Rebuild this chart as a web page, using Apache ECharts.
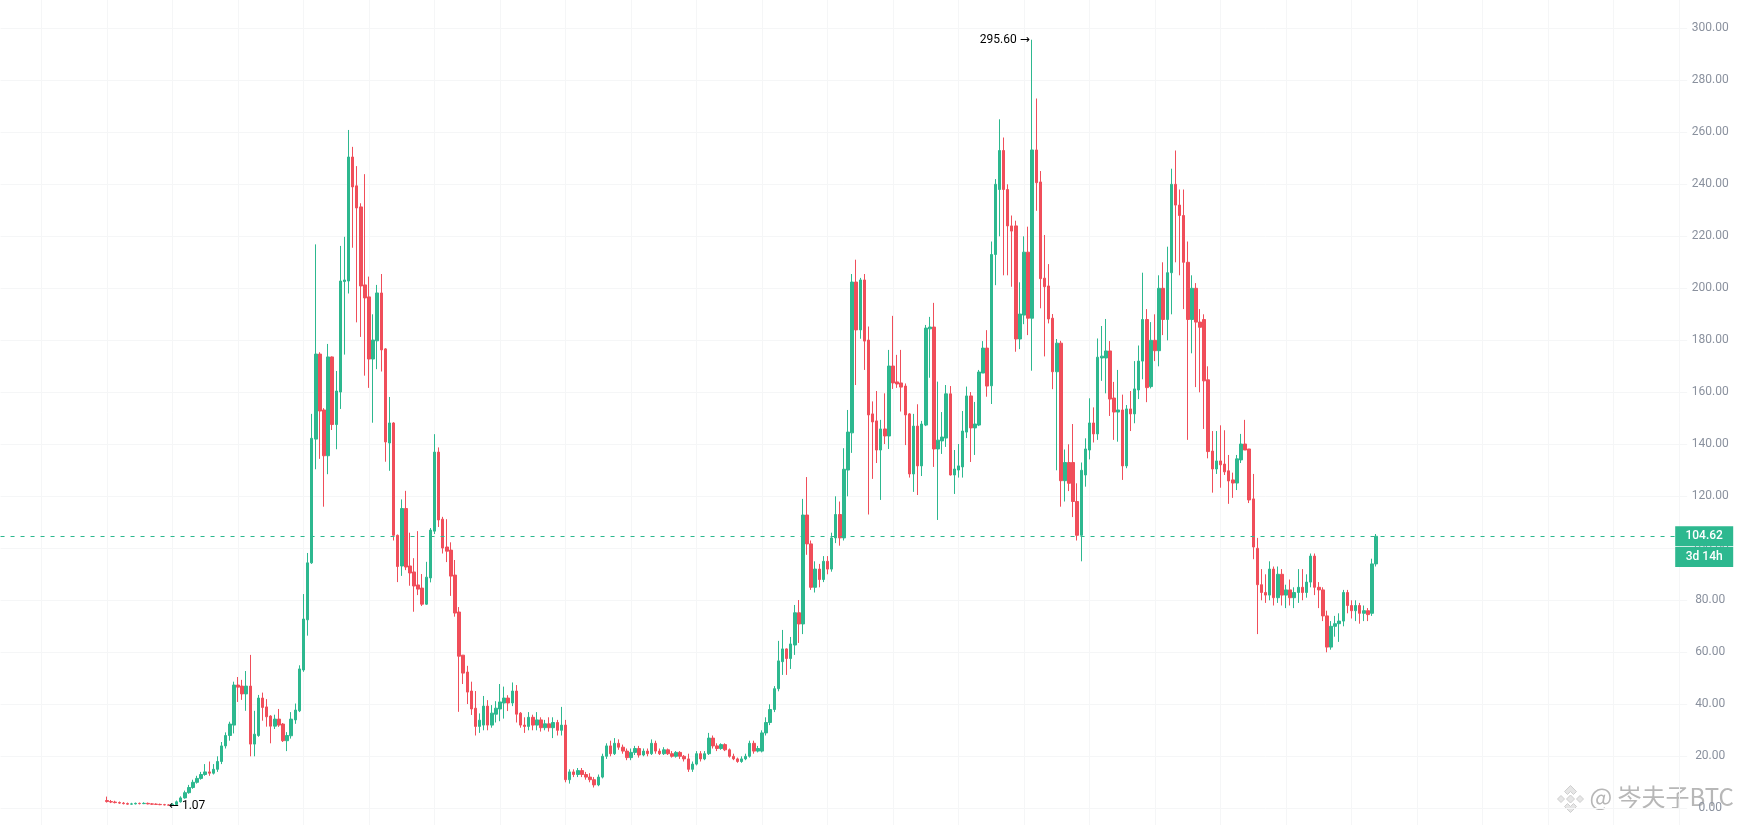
<!DOCTYPE html>
<html><head><meta charset="utf-8"><style>html,body{margin:0;padding:0;background:#fff}#c{width:1738px;height:825px}</style>
<script src="https://cdn.jsdelivr.net/npm/echarts@6/dist/echarts.min.js"></script></head><body><div id="c"></div><script>
const priceTicksMin=-20, priceTicksMax=320, priceStep=20;
const leadingBlank=26, totalSlots=413;
const lastPrice=104.62, countdownLevel=96.65, countdownText='3d 14h';
const highLabel='295.60 →', highAt=[226,295.6], lowLabel='← 1.07', lowAt=[15,1.07];
const candleRows=[ // open, close, low, high
[3,2.6,2.2,4.5],[2.6,2.4,2,3.2],[2.4,2.2,1.9,2.9],[2.2,2,1.7,2.6],[2,1.8,1.5,2.4],[1.8,1.6,1.4,2.2],[1.6,1.7,1.4,2.1],[1.7,1.9,1.5,2.2],[1.9,1.8,1.5,2.2],[1.8,1.9,1.6,2.3],[1.9,1.7,1.5,2.2],[1.7,1.6,1.3,2],[1.6,1.5,1.3,1.9],[1.5,1.4,1.2,1.8],[1.4,1.3,1.15,1.7],[1.3,1.2,1.07,1.6],[1.2,1.5,1.1,1.9],
[1.5,2.5,1.3,3],[2.5,4,2.2,4.6],[4,6,3.7,6.8],[6,8,5.6,9],[8,10,7.5,11],[10,11.5,9.5,12.5],[11.5,13,11,14],[13,14,12.5,17],[14,13.5,12.5,18],[13.5,15,13,17],[15,18,14,20],[18,24,17,25.5],[24,28,23,29.2],[28,32.4,26,33.3],[32,47.4,28.8,48.7],[47.4,46.6,40.9,50.5],[47,44,41.7,49.4],[44,47,37.5,52.8],[47,24.7,20,59],[24.7,28.5,20,37.5],[28,42.4,27.5,43.6],[42.4,38.8,33.7,44.5],[39,35.2,31.4,42],[35.5,31.6,25,35.8],[31.6,34.3,30.5,36],[34.3,32,31.3,38.2],[32.4,26,25.5,32.8],[26,28,22,29.3],[27.9,34.3,26.8,37],[34,37.8,32.5,40.3],[37.5,53.6,37,55],[53.2,72.8,52.5,82.4],[72.5,94.4,66.4,98.2],[94.4,142.3,94,151.7],
[142,174.7,130.4,216.9],[174.7,152.8,134.4,175.4],[153.2,135.6,116,153.9],[135.6,173.6,128.5,178.6],[173.6,147.6,145.5,173.8],[147.6,160.5,138.1,168.2],[160.1,202.8,153.6,216.3],[202.6,203.2,174.5,219.8],[202.8,250.5,198,260.9],[250.5,239,215.6,254.4],[239.4,230.9,186.9,247],[231.3,200.9,181.3,232.7],[201.3,196.3,166.4,243.9],[196.7,172.8,161.7,204.5],[172.8,180.1,148.3,190],[179.8,198.2,168.9,201.3],[198.2,176.3,168,205.5],[176.7,140.9,133.3,177],[140.5,148.2,129.8,158.2],[148.2,105,103,148.5],[105,93,87,105.3],
[93.2,115.3,89.4,118.8],[115.3,92.8,91.6,122.1],[93.2,90.5,85.6,106],[90.9,85.5,75.6,96.2],[85.9,84.3,82,106.6],[84.7,78.5,77.8,90.1],[78.5,88.9,78.2,94.8],[88.6,107,86.9,107.8],[106.6,137,105.5,143.9],[137,110.9,108.2,138.8],[111.2,100.1,98,112.1],[100.5,98.9,94.7,111.2],[99.3,89.3,81.7,102.3],[89.7,75.1,73.7,95.5],[75.5,58.5,37.1,77.4],[58.9,52,47.8,58.9],[52.4,44.7,40.1,54.8],[45.1,38.2,35.9,48.7],[38.5,31.5,28,45.1],[31.5,33.9,29,36.5],[32,39.3,30,43.2],[39.3,32,30,41.6],[32,36.6,31,39.7],[36.2,38.5,33,41.2],[38.2,40.9,33.5,47.8],[40.5,42.4,34.5,46.8],[42.4,40.5,37.4,43.5],[40.5,45.1,39.3,48.4],[45.1,36.2,33,47.4],[36.6,32,31,37],[32,31.5,29,35],[31.5,35,30,37],[35,32,30,36],[32,34,30,37],[34,31,29.5,35],[31,32.5,30,34],[32.5,31,29.5,35],[31,33,27,35],[33,30,28,34],[30,32,28,39],[32,11,10,34],
[11,14,9.5,15],[14,13,12,15],[13,14.5,12,15.5],[14.5,13,12,15.5],[13,12,11,14],[12,11,10,13.5],[11,9,8,12],[9,12,8.5,13],[12,20,11.5,21],[20,24,19,25],[24,21,20,26],[21,25,20.5,27],[25,23.5,22.5,26.5],[23.5,22,21,24.5],[22,19.5,18.5,23],[19.5,21.5,18.5,23],[21.5,23,20.5,24],[23,20.5,19.5,24],[20.5,22,20,23],[22,21,20,23],[21,25,20.5,26.5],[25,22,21,26],[22,21,20.5,23],[21,22.5,20.5,23.5],[22.5,21,20.5,23],[21,20,19.5,22],[20,21.5,19.5,22],[21.5,20,19,22],[20,19,18,20.5],[19,15,14,21],[15,17,14,18],[17,21,16.5,22],[21,19,18,22],[19,21,18.5,22],[21,27,20.5,29],[27,24,23,28],[24,23,22,25],[23,24.5,22.5,25],[24.5,22.5,22,25],[22.5,20,19.5,23],[20,19,18.5,21],[19,18,17.5,19.5],[18,19,17.5,20],[19,20,18.5,21],[20,25,19.5,26],[25,22,21,26],[22,23,21.5,24],[22,29,21.5,30],[29,33,28,35],[33,38,32,40],[38,46,37,47],[46,56.7,45,64.4],
[56.4,61.3,51.3,68.6],[61.3,57.6,51.3,61.5],[57.6,63.2,53.6,65.9],[62.8,75.2,59,78.2],[75.2,70.9,63.6,80.1],[70.9,112.8,67,119],[112.8,101.7,97.5,127.4],[101.7,85,84,103],[85,92,83,95],[92,88,85,94],[88,95,87,97],[95,92,90,97],[92,104,91,106],[104,113,102,120],[113,104,101,118],[104,130.4,103,138.5],[130.1,144.7,120,153.2],[144.4,202.4,136.7,205.5],[202.4,184,162.8,211],[184,203.2,180.6,204],[203.2,179.7,168.6,205.5],[180.1,151.3,113,185.3],[151.7,148.6,126.7,156.5],[149,137.8,132.8,160.5],[137.8,145.9,118.6,149.4],[145.9,143.2,140.1,159.6],[143.2,170.1,138.2,176.3],
[170.1,163.6,161.3,189.4],[164,163.2,161.7,174.4],[163.6,162,152.6,176.3],[162.4,151.3,139.7,163.4],[151.7,128.6,127.2,152],[128.6,147,121.7,151.7],[147,131.7,120.5,155.4],[131.7,147.8,127.8,149],[147.4,184.7,147,185.9],[184.4,185.1,165.6,189],[185.1,138.2,131.3,194.4],[138.2,141.6,110.9,164.1],[141.3,142.8,136.3,152.4],[142.4,159.4,139,162.8],[159.4,128.2,128,162.4],[128.2,130.5,120.9,137.8],[130.1,131.7,127.2,140.1],[131.3,145.1,127.2,152.8],[144.7,158.6,142.4,162.2],[158.6,146.3,133.2,160.1],[146.3,147.8,135.9,156.3],[147.4,167.8,147,168.6],[167.4,177,167.4,179.7],[177,162.4,158.3,183.9],
[162.5,213,155.5,218],[213,240,201.2,242],[238,253,220,265],[253,238,205,258],[238,224,205,240],[224,222,200.6,228],[224,180.5,175.6,226],[180.5,190.1,176.6,202.3],[189.7,213.9,186.2,220],[213.9,188.5,182,223.7],[188.5,253.2,168.3,295.6],[253.2,240.6,229.8,273],[240.9,203.7,192.3,245.1],[203.9,200.6,173.8,220.5],[200.9,188.2,186.5,209.3],[188.5,167.9,161.2,190.1],[167.9,178.9,130,180.5],[178.9,126,116,179.8],[126,133,118,138],[133,125,122,140],[133,118,112,147.8],[118,105,103,125],[105,130,95,133],[128.2,138.2,123.7,142.3],
[137.8,148.2,134.2,157.7],[148.2,144,140.7,154.2],[144,173.5,141.7,180.7],[173.2,173.9,164.4,185.5],[173.2,175.9,159.6,188.2],[175.9,157.4,150.9,179.7],[157.8,152.4,141.7,164],[152.4,153.2,141,168.6],[153.2,131.7,126.3,159.1],[131.7,153.6,130.8,155.1],[153.6,151.7,145.1,160.5],[151.7,161.3,148.1,172],
[160.9,172,157.4,178],[172,188,165,206],[188,161.8,156.2,192],[162.2,180,161.5,187],[180,176,172,190],[176,200,170,205],[200,188,182,210],[188,206,180,216],[206,240,190,246],[240,232,210,253],[232,228,205,238],[228,210,192,238],[210,188,141.7,218],[188,200,175,205],[200,187,162,202],[187,185,160,192],[188,164.4,145.9,190],
[164.8,137.2,134.6,170],[137.4,130.5,121.4,145.1],[130.5,133.6,128.6,145.1],[133.6,132.1,123.3,147.3],[132.4,129.4,128.2,145.4],[129.8,125.9,117.1,135.9],[126.3,125.1,119.4,129.1],[125.1,134.4,122.4,135.9],[134,140.1,132.8,144],[140.1,137.8,137.8,149.4],[138.2,118.6,117.4,138.2],[119,100.5,95.8,128.6],
[100,86,67,104],[86,83,80,92],[83,82,79,90],[82,92,80,95],[92,81,78,93],[81,90,79,93],[90,82,78,92],[82,84,77,86],[84,81,78,88],[81,83,77,85],[83,85,79,92],[85,83,80,92],[83,87,81,90],[87,97,85,98],[97,85,82,98],[85,84,77,87],[84,74,72,85],[74,62,60,76],[62,70,61,72],[70,71,66,74],[71,72,64,75],[72,83,70,84],[83,78,75,84],[78,76,73,80],[76,78,72,80],[78,75,71,79],[75,76,72,78],[76,74.5,72,77],[75,94,74,96],[94,104.62,93,105.5]
];
const categories=Array.from({length:totalSlots},(_,i)=>String(i));
const blankHead=new Array(leadingBlank).fill('-');
const seriesData=blankHead.concat(candleRows);
const UP='#2DB88F',DOWN='#F04E5A',GRID='#F5F6F7',TICK='#8A919E';
const chart=echarts.init(document.getElementById('c'),null,{renderer:'canvas'});
const tagLabel={show:true,position:'end',distance:0,offset:[17,0],width:58,height:20,lineHeight:20,align:'center',backgroundColor:UP,color:'#fff',fontFamily:'Roboto',fontSize:12,fontWeight:500};
const noteFont='Roboto,"DejaVu Sans",sans-serif';
chart.setOption({
 animation:false,backgroundColor:'#fff',
 grid:{left:0.56,right:50.8,top:-23.7,height:884,containLabel:false,outerBoundsMode:'none'},
 xAxis:{type:'category',data:categories,boundaryGap:false,axisLine:{show:false},axisTick:{show:false},axisLabel:{show:false},
  splitLine:{show:true,interval:i=>(i-leadingBlank)%16===0,lineStyle:{color:GRID,width:1}}},
 yAxis:{type:'value',position:'right',min:priceTicksMin,max:priceTicksMax,interval:priceStep,scale:false,axisLine:{show:false},axisTick:{show:false},
  axisLabel:{color:TICK,fontFamily:'Roboto',fontSize:12,align:'center',margin:23,formatter:v=>v.toFixed(2)},
  splitLine:{show:true,lineStyle:{color:GRID,width:1}}},
 series:[{type:'candlestick',data:seriesData,barWidth:3,
  itemStyle:{color:UP,color0:DOWN,borderColor:UP,borderColor0:DOWN,borderWidth:1},
  markLine:{silent:true,symbol:'none',animation:false,precision:2,
   lineStyle:{color:UP,type:[4,6],width:1},
   data:[{yAxis:lastPrice,label:Object.assign({},tagLabel,{formatter:lastPrice.toFixed(2)})},
         {yAxis:countdownLevel,lineStyle:{color:'rgba(0,0,0,0)'},label:Object.assign({},tagLabel,{formatter:countdownText})}]},
  markPoint:{silent:true,symbol:'circle',symbolSize:1,itemStyle:{color:'rgba(0,0,0,0)'},
   data:[{coord:[highAt[0]+leadingBlank,highAt[1]],label:{show:true,position:'left',distance:2,formatter:highLabel,color:'#000',fontFamily:noteFont,fontSize:12}},
         {coord:[lowAt[0]+leadingBlank,lowAt[1]],label:{show:true,position:'right',distance:0,formatter:lowLabel,color:'#000',fontFamily:noteFont,fontSize:12}}]}
 }],
 graphic:[
  {type:'group',left:1557,top:785,silent:true,children:[
    {type:'polygon',shape:{points:[[13,0],[19,6],[16,9],[13,6],[10,9],[7,6]]},style:{fill:'#e6e6e6',stroke:'#cfcfcf'}},
    {type:'polygon',shape:{points:[[13,27],[19,21],[16,18],[13,21],[10,18],[7,21]]},style:{fill:'#e6e6e6',stroke:'#cfcfcf'}},
    {type:'polygon',shape:{points:[[0,13.5],[3.5,10],[7,13.5],[3.5,17]]},style:{fill:'#e6e6e6',stroke:'#cfcfcf'}},
    {type:'polygon',shape:{points:[[19,13.5],[22.5,10],[26,13.5],[22.5,17]]},style:{fill:'#e6e6e6',stroke:'#cfcfcf'}},
    {type:'polygon',shape:{points:[[13,9.5],[17,13.5],[13,17.5],[9,13.5]]},style:{fill:'#e6e6e6',stroke:'#cfcfcf'}}
  ]},
  {type:'text',left:1589,top:784,silent:true,style:{text:'@ 岑夫子BTC',fontFamily:'"Noto Sans CJK SC"',fontSize:24,fill:'rgba(170,170,170,0.85)',stroke:'rgba(255,255,255,0.6)',lineWidth:1}}
 ]
});
</script></body></html>
